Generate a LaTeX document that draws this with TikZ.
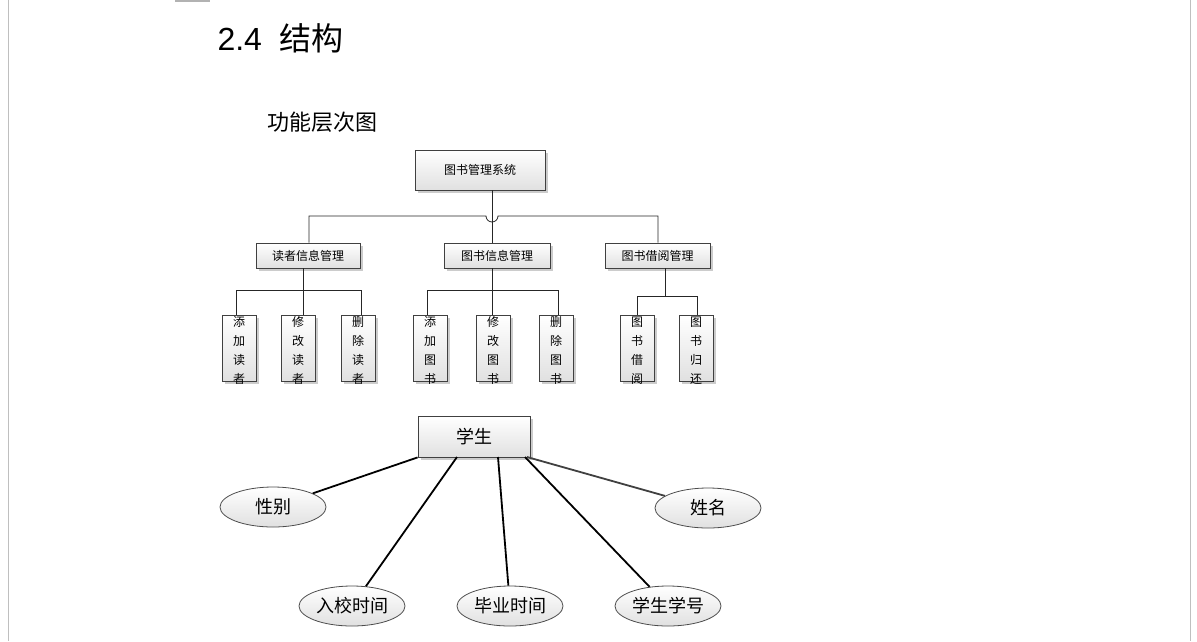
\documentclass[tikz,border=0pt]{standalone}
\usepackage{fontspec}
\setmainfont{Liberation Sans}
\newfontfamily\cjk{Noto Sans CJK SC}
\usetikzlibrary{shadows,shapes.geometric}
\begin{document}
\begin{tikzpicture}[x=1pt,y=-1pt,
  box/.style={draw=black!75,line width=0.8pt,top color=white,bottom color=black!12,drop shadow={shadow xshift=2.5pt,shadow yshift=-2.5pt,fill=black!20,opacity=1},inner sep=0pt,font=\cjk\fontsize{12}{12}\selectfont},
  vbox/.style={box,minimum width=34pt,minimum height=66pt},
  ell/.style={draw=black!70,ellipse,line width=0.8pt,top color=white,bottom color=black!12,minimum width=106pt,minimum height=40pt,inner sep=0pt,font=\cjk\fontsize{18}{18}\selectfont},
  tl/.style={black!85,line width=0.8pt},
  er/.style={line width=1.8pt}]
\useasboundingbox (0,0) rectangle (1197,641);
\draw[black!25,line width=1pt] (8,0) -- (8,641);
\draw[black!25,line width=1pt] (1190,0) -- (1190,641);
\fill[black!30] (175,0) rectangle (210,2);
\node[anchor=west,font=\fontsize{32}{32}\selectfont] (t) at (214,38) {2.4\ \ {\cjk 结构}};
\node[anchor=west,font=\cjk\fontsize{22}{22}\selectfont] (s) at (264,122) {功能层次图};
% hierarchy
\node[box,minimum width=130pt,minimum height=40pt] (root) at (480,170) {图书管理系统};
\node[box,minimum width=104pt,minimum height=25pt] (a) at (308,255.5) {读者信息管理};
\node[box,minimum width=106pt,minimum height=25pt] (b) at (497,255.5) {图书信息管理};
\node[box,minimum width=105pt,minimum height=25pt] (c) at (657.5,255.5) {图书借阅管理};
\tikzset{vtxt/.style={anchor=north,align=center,font=\cjk\fontsize{12}{19}\selectfont}}
\newcommand\vb[3]{\node[vbox] (#1) at (#2,348) {}; \node[vtxt] at (#2,313) {#3};}
\vb{a1}{239}{添\\加\\读\\者}
\vb{a2}{298}{修\\改\\读\\者}
\vb{a3}{358}{删\\除\\读\\者}
\vb{b1}{430}{添\\加\\图\\书}
\vb{b2}{493}{修\\改\\图\\书}
\vb{b3}{556}{删\\除\\图\\书}
\vb{c1}{637}{图\\书\\借\\阅}
\vb{c2}{696}{图\\书\\归\\还}
\coordinate (hop) at (492,216);
\draw[tl] (root.south -| hop) -- (b.north -| hop);
\draw[tl] (a.north -| 309,0) |- (486,216) arc (180:0:6) -- (658,216) -- (c.north -| 658,0);
\draw[tl] (a.south -| 303,0) -- (303,290);
\draw[tl] (a1.north -| 236,0) |- (361,290) -- (a3.north -| 361,0);
\draw[tl] (303,290) -- (a2.north -| 303,0);
\draw[tl] (b.south -| 492,0) -- (b2.north -| 492,0);
\draw[tl] (b1.north -| 427,0) |- (558,290) -- (b3.north -| 558,0);
\draw[tl] (c.south -| 665,0) -- (665,296);
\draw[tl] (c1.north -| 637,0) |- (697,296) -- (c2.north -| 697,0);
% ER
\node[box,minimum width=112pt,minimum height=41pt,font=\cjk\fontsize{18}{18}\selectfont] (st) at (474,436.5) {学生};
\node[ell] (e1) at (273,507) {性别};
\node[ell] (e2) at (708,508) {姓名};
\node[ell] (e3) at (352,606) {入校时间};
\node[ell] (e4) at (510,606) {毕业时间};
\node[ell] (e5) at (668,606) {学生学号};
\draw[er] (st.south west) -- (e1);
\draw[er] (457,457) -- (e3);
\draw[er] (498,457) -- (e4);
\draw[er] (525,457) -- (e5);
\draw[er,black!75] (527,457) -- (e2);
\end{tikzpicture}
\end{document}
